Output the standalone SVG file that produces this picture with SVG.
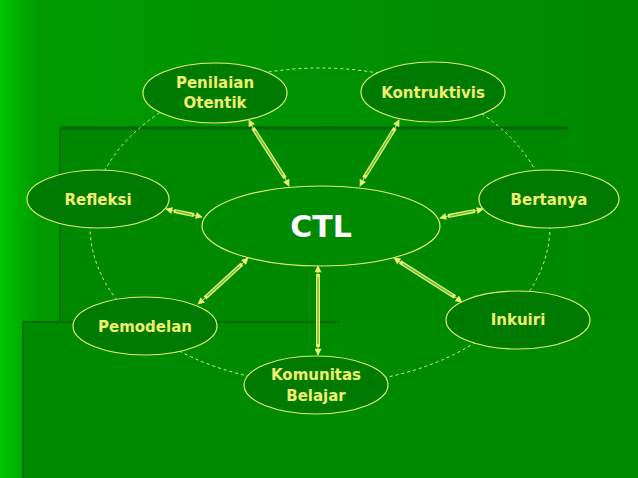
<svg xmlns="http://www.w3.org/2000/svg" width="638" height="478" viewBox="0 0 638 478">
<defs>
<linearGradient id="bg" x1="0" y1="0" x2="1" y2="0">
<stop offset="0" stop-color="#00c400"/><stop offset="0.06" stop-color="#009a00"/><stop offset="1" stop-color="#008800"/>
</linearGradient>
<marker id="ah" viewBox="0 0 10 10" refX="9" refY="5" markerWidth="8" markerHeight="7" orient="auto-start-reverse" markerUnits="userSpaceOnUse">
<path d="M0,0 L10,5 L0,10 z" fill="#e8f070"/>
</marker>
<style>
.n ellipse{fill:#007a00;stroke:#e0ee70;stroke-width:1.2}
.n text{font-family:"DejaVu Sans",Verdana,sans-serif;font-weight:bold;font-size:15px;fill:#f0f070;text-anchor:middle}
.c line{stroke:#e8f070;stroke-width:4}
.c line.i{stroke:#6fbf3a;stroke-width:1.5}
.c line.m{stroke-width:1}
</style>
</defs>
<rect width="638" height="478" fill="url(#bg)"/>
<rect x="60" y="128" width="508" height="350" fill="#008800"/>
<line x1="60" y1="128" x2="568" y2="128" stroke="#006400" stroke-width="3"/>
<line x1="60" y1="128" x2="60" y2="478" stroke="#007000" stroke-width="2"/>
<rect x="23" y="322" width="615" height="156" fill="#008a00"/>
<line x1="23" y1="322" x2="340" y2="322" stroke="#006a00" stroke-width="2"/>
<line x1="23" y1="322" x2="23" y2="478" stroke="#007400" stroke-width="2"/>
<ellipse cx="320" cy="226" rx="230" ry="158" fill="none" stroke="#d0f0b0" stroke-width="1" stroke-dasharray="3,3"/>
<g id="connectors" class="c">
<line x1="253" y1="128" x2="285" y2="178"/><line class="i" x1="255" y1="131" x2="283" y2="175"/>
<line class="m" x1="285" y1="178" x2="289" y2="186" marker-end="url(#ah)"/><line class="m" x1="253" y1="128" x2="249" y2="120" marker-end="url(#ah)"/>
<line x1="395" y1="128" x2="364" y2="178"/><line class="i" x1="393" y1="131" x2="366" y2="175"/>
<line class="m" x1="364" y1="178" x2="360" y2="186" marker-end="url(#ah)"/><line class="m" x1="395" y1="128" x2="399" y2="120" marker-end="url(#ah)"/>
<line x1="174" y1="211" x2="194" y2="215"/><line class="i" x1="176" y1="211" x2="192" y2="215"/>
<line class="m" x1="194" y1="215" x2="202" y2="217" marker-end="url(#ah)"/><line class="m" x1="174" y1="211" x2="166" y2="209" marker-end="url(#ah)"/>
<line x1="475" y1="211" x2="448" y2="216"/><line class="i" x1="473" y1="211" x2="450" y2="216"/>
<line class="m" x1="448" y1="216" x2="440" y2="218" marker-end="url(#ah)"/><line class="m" x1="475" y1="211" x2="483" y2="209" marker-end="url(#ah)"/>
<line x1="205" y1="298" x2="242" y2="264"/><line class="i" x1="207" y1="296" x2="240" y2="266"/>
<line class="m" x1="242" y1="264" x2="248" y2="258" marker-end="url(#ah)"/><line class="m" x1="205" y1="298" x2="198" y2="304" marker-end="url(#ah)"/>
<line x1="455" y1="297" x2="400" y2="262"/><line class="i" x1="452" y1="295" x2="403" y2="264"/>
<line class="m" x1="400" y1="262" x2="394" y2="258" marker-end="url(#ah)"/><line class="m" x1="455" y1="297" x2="462" y2="302" marker-end="url(#ah)"/>
<line x1="318" y1="274" x2="318" y2="347"/><line class="i" x1="318" y1="277" x2="318" y2="344"/>
<line class="m" x1="318" y1="347" x2="318" y2="355" marker-end="url(#ah)"/><line class="m" x1="318" y1="274" x2="318" y2="266" marker-end="url(#ah)"/>
</g>
<g id="ctl" class="n"><ellipse cx="321" cy="226" rx="119" ry="40" style="fill:#008a00"/><text x="321" y="237" style="font-size:30px;fill:#ffffff">CTL</text></g>
<g id="penilaian" class="n"><ellipse cx="215" cy="93" rx="72" ry="30"/><text x="215" y="88">Penilaian</text><text x="215" y="108">Otentik</text></g>
<g id="kontruktivis" class="n"><ellipse cx="433" cy="92" rx="72" ry="30"/><text x="433" y="98">Kontruktivis</text></g>
<g id="refleksi" class="n"><ellipse cx="98" cy="199" rx="71" ry="29"/><text x="98" y="205">Refleksi</text></g>
<g id="bertanya" class="n"><ellipse cx="549" cy="199" rx="70" ry="29"/><text x="549" y="205">Bertanya</text></g>
<g id="pemodelan" class="n"><ellipse cx="145" cy="326" rx="72" ry="29"/><text x="145" y="332">Pemodelan</text></g>
<g id="inkuiri" class="n"><ellipse cx="518" cy="320" rx="72" ry="29"/><text x="518" y="325">Inkuiri</text></g>
<g id="komunitas" class="n"><ellipse cx="316" cy="385" rx="72" ry="29"/><text x="316" y="380">Komunitas</text><text x="316" y="401">Belajar</text></g>
</svg>
